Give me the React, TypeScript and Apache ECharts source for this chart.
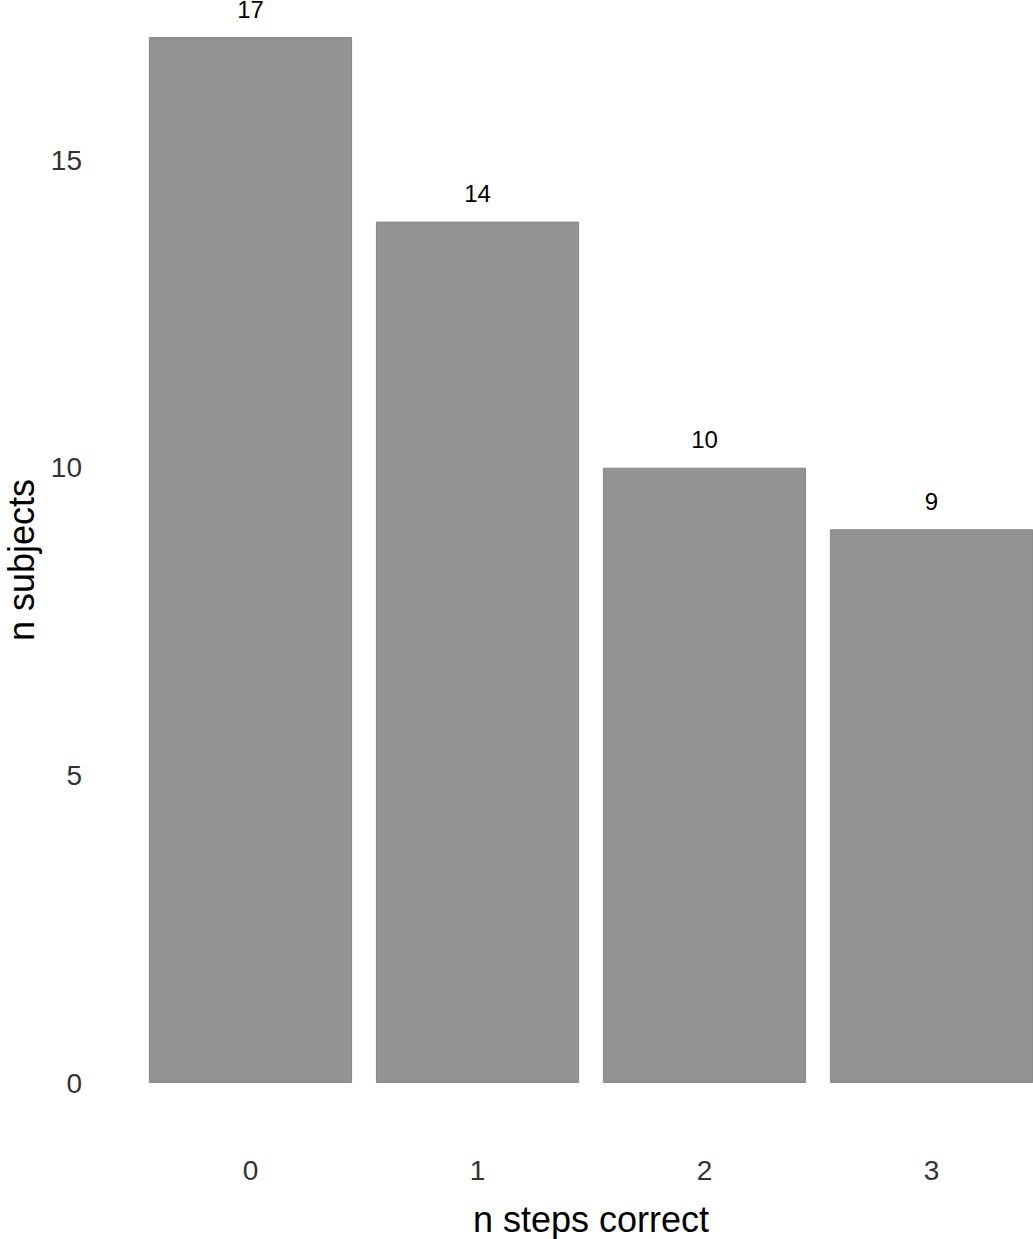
import React, { useEffect, useRef } from 'react';
import * as echarts from 'echarts';

const categories = ['0', '1', '2', '3'];
const subjects = [17, 14, 10, 9];
const yTicks = [0, 5, 10, 15];

const App: React.FC = () => {
  const chartRef = useRef<HTMLDivElement | null>(null);

  useEffect(() => {
    document.body.style.margin = '0';
    const chart = echarts.init(chartRef.current!, null, { renderer: 'svg' });

    const font = 'Liberation Sans, Arial, sans-serif';

    chart.setOption({
      animation: false,
      // the plot runs a little past the right edge, as in the original
      grid: { left: 137, right: 0, top: 37, bottom: 156, outerBoundsMode: 'none' },
      xAxis: {
        type: 'category',
        data: categories,
        name: 'n steps correct',
        nameLocation: 'middle',
        nameGap: 118,
        nameTextStyle: { fontSize: 36, color: '#000', fontFamily: font },
        axisLine: { show: false },
        axisTick: { show: false },
        axisLabel: { fontSize: 28, color: '#333', margin: 73, fontFamily: font },
      },
      yAxis: {
        type: 'value',
        min: 0,
        max: 17,
        interval: 5,
        name: 'n subjects',
        nameLocation: 'middle',
        nameGap: 98,
        nameTextStyle: { fontSize: 36, color: '#000', fontFamily: font },
        axisLine: { show: false },
        axisTick: { show: false },
        splitLine: { show: false },
        axisLabel: {
          fontSize: 28,
          color: '#333',
          margin: 55,
          fontFamily: font,
          formatter: (v: number) => (yTicks.includes(v) ? String(v) : ''),
        },
      },
      series: [
        {
          type: 'bar',
          data: subjects,
          barCategoryGap: '10.5%',
          itemStyle: { color: '#939393', borderColor: '#888888', borderWidth: 1 },
          label: {
            show: true,
            position: 'top',
            distance: 16,
            fontSize: 24,
            color: '#000',
            fontFamily: font,
          },
        },
      ],
    });

    return () => {
      chart.dispose();
    };
  }, []);

  return (
    <div style={{ width: '1033px', height: '1239px', overflow: 'hidden' }}>
      <div ref={chartRef} style={{ width: '1045px', height: '1239px' }} />
    </div>
  );
};

export default App;
